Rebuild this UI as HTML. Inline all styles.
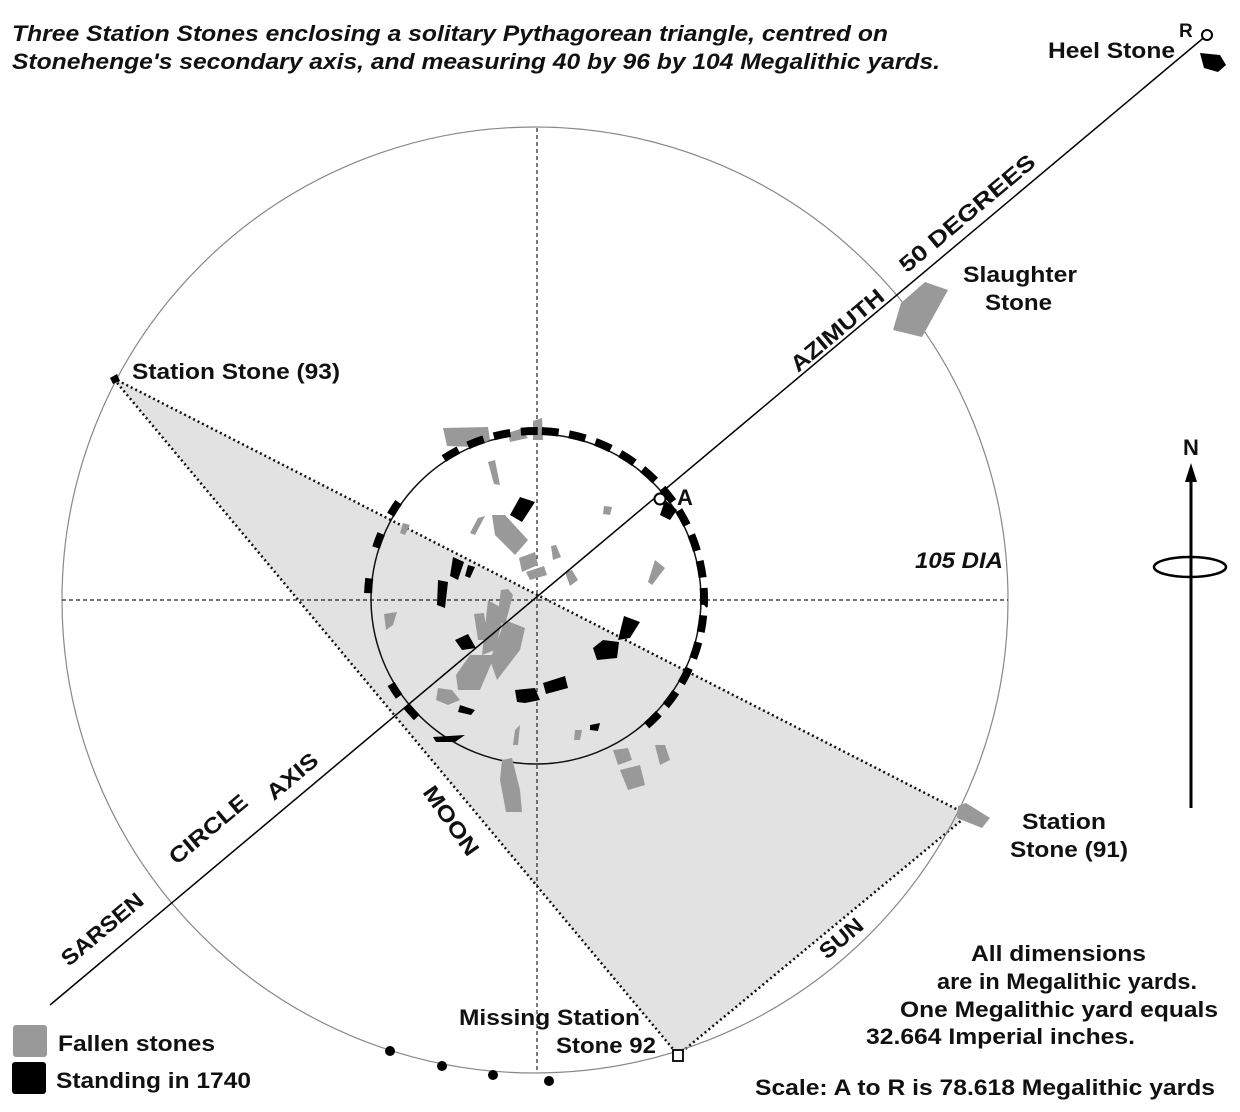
<!DOCTYPE html>
<html><head><meta charset="utf-8"><style>
html,body{margin:0;padding:0;background:#fff}
svg{display:block}
text{font-family:"Liberation Sans",Arial,sans-serif;font-weight:bold;fill:#111}
</style></head><body>
<svg width="1240" height="1112" viewBox="0 0 1240 1112" xmlns="http://www.w3.org/2000/svg">
<rect width="1240" height="1112" fill="#fff"/>
<polygon points="113,378 968,815 678,1055" fill="#e2e2e2" stroke="#111" stroke-width="2.5" stroke-dasharray="2,3"/>
<circle cx="535" cy="600" r="473" fill="none" stroke="#888" stroke-width="1.2"/>
<line x1="62" y1="600" x2="1008" y2="600" stroke="#222" stroke-width="1.2" stroke-dasharray="4,3"/>
<line x1="537" y1="128" x2="537" y2="1072" stroke="#222" stroke-width="1.2" stroke-dasharray="4,3"/>
<circle cx="536" cy="599" r="165" fill="none" stroke="#111" stroke-width="1.5"/>
<g fill="#999">
<polygon points="443,428 488,427 490,440 475,447 447,446"/>
<polygon points="508,433 520,429 528,438 510,442"/>
<polygon points="533,421 542,418 543,440 533,440"/>
<polygon points="488,462 495,460 500,485 494,484"/>
<polygon points="492,515 505,515 528,540 515,555 495,535"/>
<polygon points="519,558 535,552 538,565 522,572"/>
<polygon points="526,572 544,566 547,575 530,580"/>
<polygon points="551,546 556,545 561,557 553,560"/>
<polygon points="565,572 572,570 578,580 570,586"/>
<polygon points="478,518 485,516 475,535 470,533"/>
<polygon points="403,523 410,525 405,535 400,533"/>
<polygon points="384,614 397,612 393,625 386,630"/>
<polygon points="501,590 508,589 513,595 505,625 497,620"/>
<polygon points="474,614 484,613 488,640 478,640"/>
<polygon points="488,600 505,610 495,650 482,655"/>
<polygon points="505,620 525,628 520,650 497,680 490,660"/>
<polygon points="470,655 495,655 480,690 458,690 456,675"/>
<polygon points="438,688 452,690 460,700 448,705 436,700"/>
<polygon points="502,760 512,758 520,790 522,812 506,812 500,780"/>
<polygon points="655,560 665,568 652,585 648,582"/>
<polygon points="604,506 612,507 610,515 603,514"/>
<polygon points="613,750 628,748 632,760 618,765"/>
<polygon points="620,770 640,765 645,785 628,790"/>
<polygon points="655,745 665,745 670,760 660,765"/>
<polygon points="515,730 520,725 518,745 513,745"/>
<polygon points="575,730 582,730 580,740 574,740"/>
<polygon points="901,303 925,282 948,290 922,337 893,330"/>
<polygon points="958,806 966,803 990,818 982,828 957,818"/>
</g>
<g fill="#000">
<circle cx="536" cy="599" r="168" fill="none" stroke="#000" stroke-width="8" transform="rotate(-88 536 599)" pathLength="1000" style="stroke-dasharray:16 10 16 10 16 10 16 10 16 10 16 10 16 10 16 10 16 10 16 10 16 10 16 10 16 10 16 10 16 10 0 230 14 12 14 90 14 30 14 20 14 60"/>
<polygon points="520,497 535,502 522,522 510,515"/>
<polygon points="453,557 464,562 458,580 450,576"/>
<polygon points="438,580 448,582 445,608 437,605"/>
<polygon points="468,565 475,567 470,578 465,576"/>
<polygon points="455,640 468,634 476,648 462,650"/>
<polygon points="624,616 640,622 630,638 618,640"/>
<polygon points="603,640 619,642 617,658 597,660 593,648"/>
<polygon points="515,690 535,688 540,700 525,703 517,702"/>
<polygon points="543,683 565,676 568,688 546,694"/>
<polygon points="460,705 475,710 471,715 458,712"/>
<polygon points="433,737 465,735 455,742 436,742"/>
<polygon points="590,725 600,723 598,731 590,730"/>
<polygon points="665,500 677,510 670,520 660,515"/>
<polygon points="1200,53 1220,55 1226,65 1218,72 1204,68"/>
<polygon points="110,378 117,374 120,381 113,384"/>
</g>
<line x1="50" y1="1005" x2="1207" y2="35" stroke="#000" stroke-width="1.5"/>
<circle cx="660" cy="499" r="5.5" fill="#fff" stroke="#000" stroke-width="2"/>
<circle cx="1207" cy="35" r="5" fill="#fff" stroke="#000" stroke-width="2"/>
<rect x="673" y="1050" width="10" height="11" fill="#fff" stroke="#000" stroke-width="1.8"/>
<g fill="#000"><circle cx="390" cy="1051" r="5"/><circle cx="442" cy="1066" r="5"/><circle cx="493" cy="1075" r="5"/><circle cx="549" cy="1081" r="5"/></g>
<rect x="13" y="1025" width="34" height="32" rx="3" fill="#999"/>
<rect x="12" y="1062" width="34" height="32" rx="3" fill="#000"/>
<line x1="1191" y1="475" x2="1191" y2="808" stroke="#000" stroke-width="3"/>
<polygon points="1191,463 1185,482 1197,482" fill="#000"/>
<ellipse cx="1190" cy="567" rx="36" ry="10" fill="none" stroke="#000" stroke-width="2.5"/>
<text x="1191" y="455" font-size="22" text-anchor="middle">N</text>
<g font-size="22">
<text x="12" y="41" font-style="italic" textLength="876" lengthAdjust="spacingAndGlyphs">Three Station Stones enclosing a solitary Pythagorean triangle, centred on</text>
<text x="12" y="69" font-style="italic" textLength="928" lengthAdjust="spacingAndGlyphs">Stonehenge's secondary axis, and measuring 40 by 96 by 104 Megalithic yards.</text>
<text x="1048" y="58" textLength="127" lengthAdjust="spacingAndGlyphs">Heel Stone</text>
<text x="1179" y="37" font-size="19">R</text>
<text x="963" y="282" textLength="114" lengthAdjust="spacingAndGlyphs">Slaughter</text>
<text x="985" y="310" textLength="67" lengthAdjust="spacingAndGlyphs">Stone</text>
<text x="132" y="379" textLength="208" lengthAdjust="spacingAndGlyphs">Station Stone (93)</text>
<text x="677" y="505">A</text>
<text x="915" y="568" font-style="italic" textLength="88" lengthAdjust="spacingAndGlyphs">105 DIA</text>
<text x="1022" y="829" textLength="84" lengthAdjust="spacingAndGlyphs">Station</text>
<text x="1010" y="857" textLength="118" lengthAdjust="spacingAndGlyphs">Stone (91)</text>
<text x="971" y="961" textLength="175" lengthAdjust="spacingAndGlyphs">All dimensions</text>
<text x="937" y="989" textLength="260" lengthAdjust="spacingAndGlyphs">are in Megalithic yards.</text>
<text x="900" y="1017" textLength="318" lengthAdjust="spacingAndGlyphs">One Megalithic yard equals</text>
<text x="866" y="1044" textLength="269" lengthAdjust="spacingAndGlyphs">32.664 Imperial inches.</text>
<text x="755" y="1095" textLength="460" lengthAdjust="spacingAndGlyphs">Scale: A to R is 78.618 Megalithic yards</text>
<text x="459" y="1025" textLength="181" lengthAdjust="spacingAndGlyphs">Missing Station</text>
<text x="556" y="1053" textLength="100" lengthAdjust="spacingAndGlyphs">Stone 92</text>
<text x="58" y="1051" textLength="157" lengthAdjust="spacingAndGlyphs">Fallen stones</text>
<text x="56" y="1088" textLength="195" lengthAdjust="spacingAndGlyphs">Standing in 1740</text>
<text transform="translate(842,336) rotate(-40)" text-anchor="middle" textLength="115" lengthAdjust="spacingAndGlyphs">AZIMUTH</text>
<text transform="translate(972,219) rotate(-40)" text-anchor="middle" textLength="170" lengthAdjust="spacingAndGlyphs">50  DEGREES</text>
<text transform="translate(107,935) rotate(-40)" text-anchor="middle" textLength="100" lengthAdjust="spacingAndGlyphs">SARSEN</text>
<text transform="translate(213,835) rotate(-40)" text-anchor="middle" textLength="95" lengthAdjust="spacingAndGlyphs">CIRCLE</text>
<text transform="translate(297,782) rotate(-40)" text-anchor="middle" textLength="60" lengthAdjust="spacingAndGlyphs">AXIS</text>
<text transform="translate(445,825) rotate(55)" text-anchor="middle" textLength="80" lengthAdjust="spacingAndGlyphs">MOON</text>
<text transform="translate(846,944) rotate(-40)" text-anchor="middle" textLength="50" lengthAdjust="spacingAndGlyphs">SUN</text>
</g>
</svg>
</body></html>
